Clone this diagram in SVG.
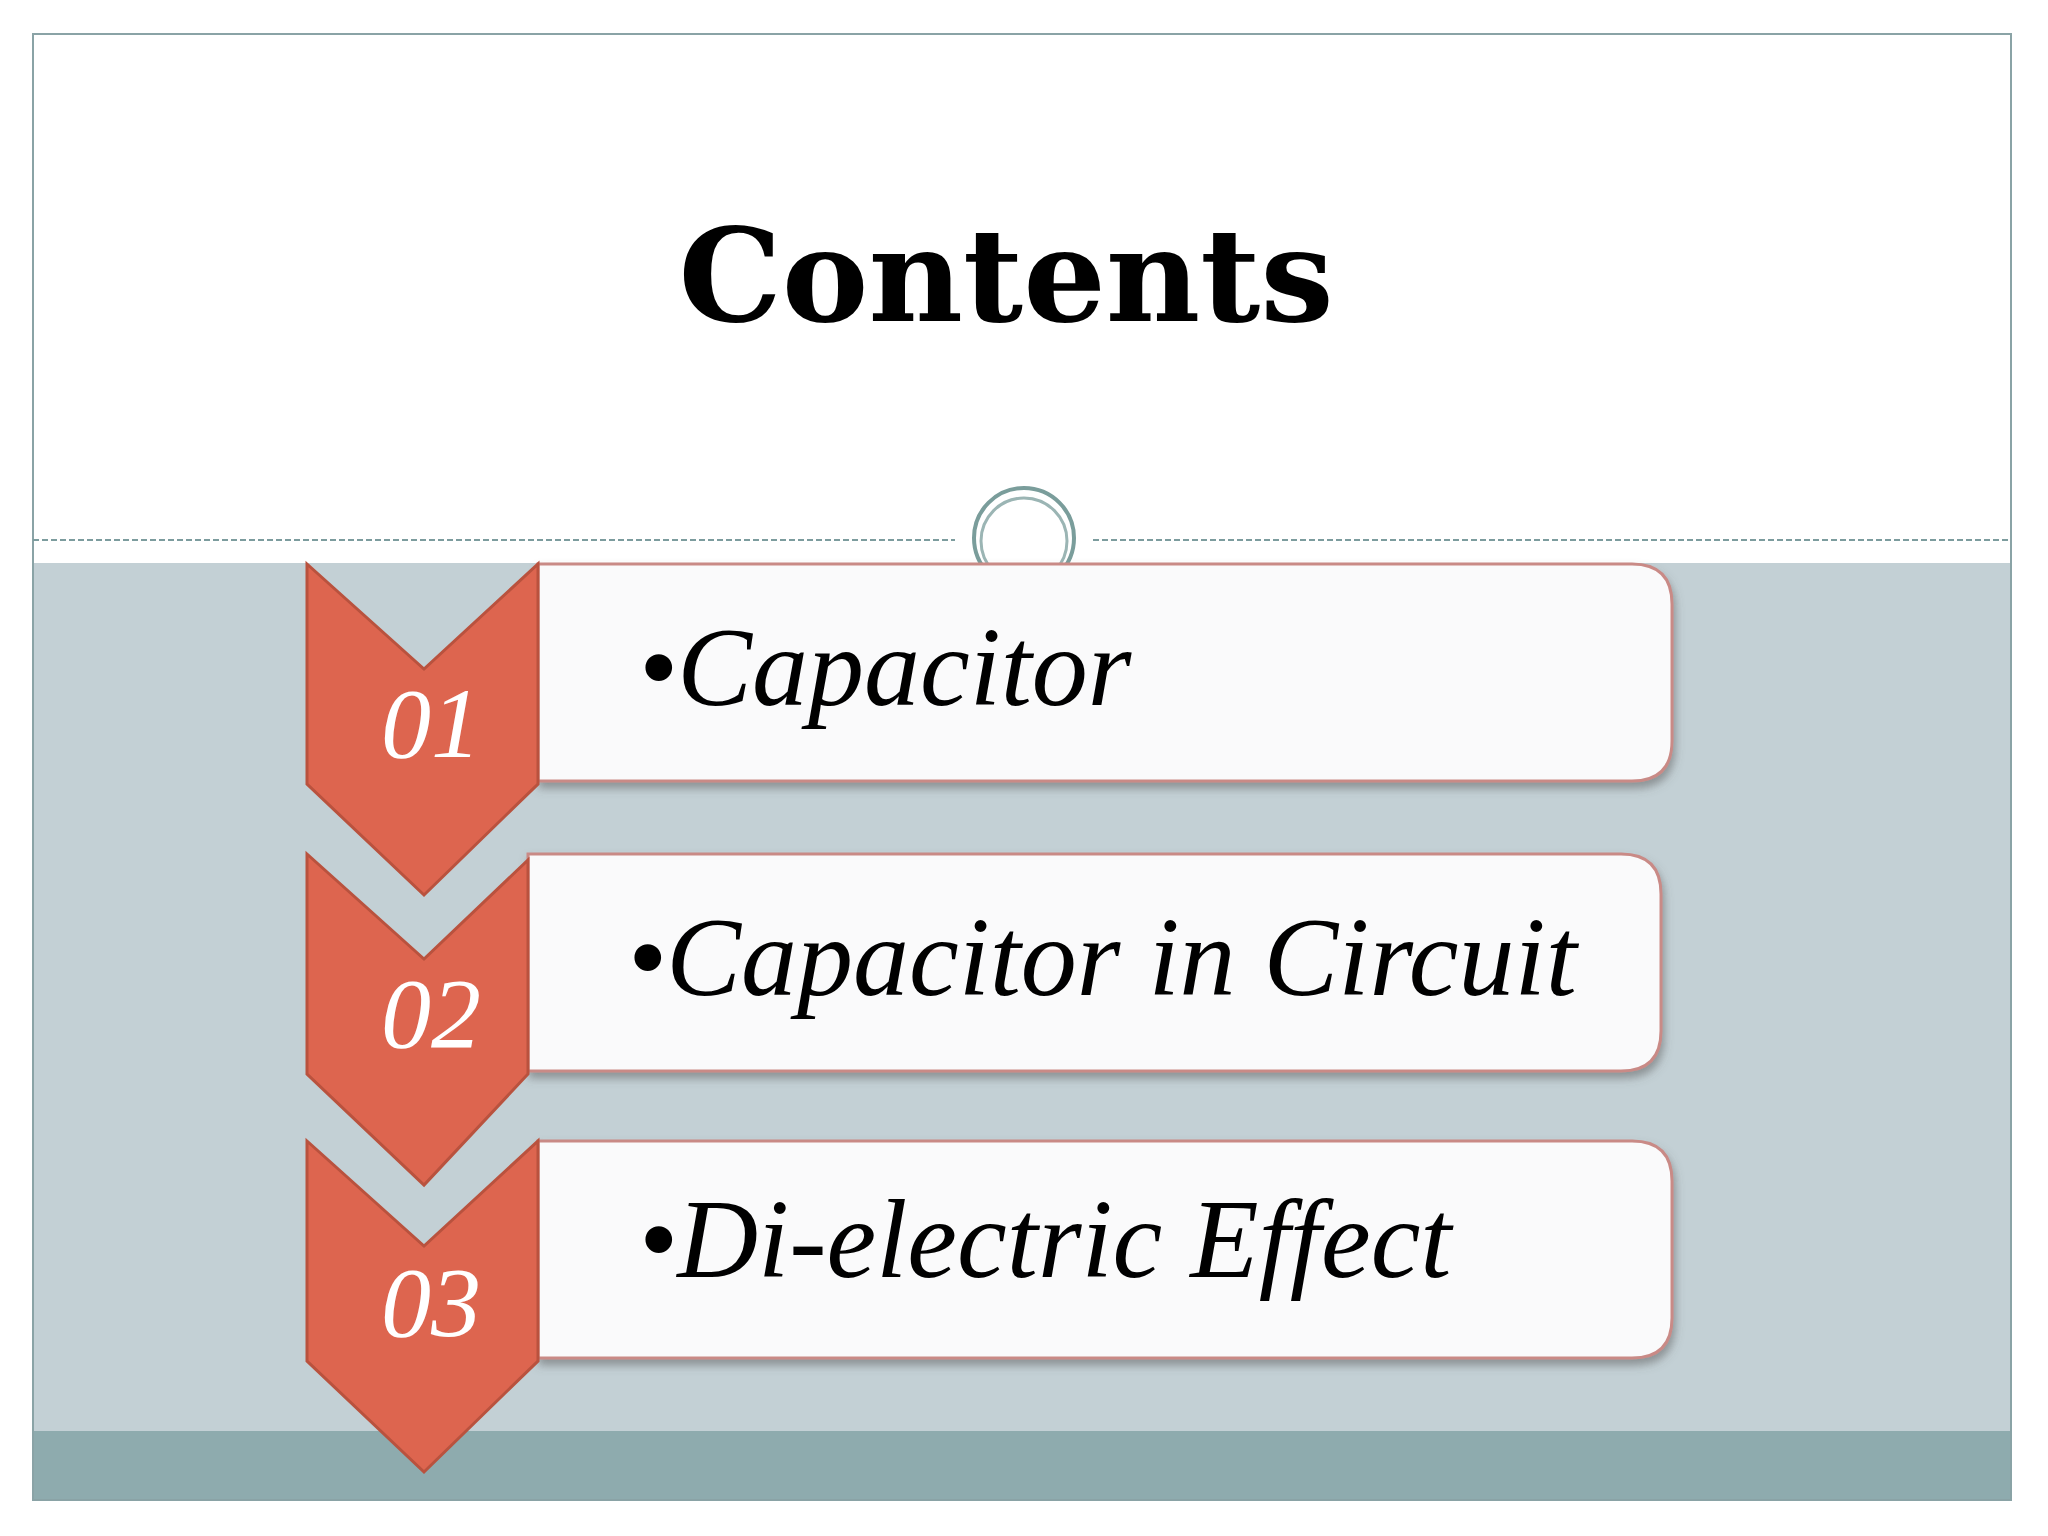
<svg xmlns="http://www.w3.org/2000/svg" width="2048" height="1536" viewBox="0 0 2048 1536">
<style>
.box{fill:#fafafb;stroke:#c98a86;stroke-width:3}
.chev{fill:#dd654f;stroke:#b9523e;stroke-width:3}
.num{font-family:"Liberation Serif",serif;font-style:italic;font-size:100px;fill:#fff;text-anchor:middle}
.item{font-family:"Liberation Serif",serif;font-style:italic;font-size:112px;fill:#000}
</style>
<defs>
<filter id="sh" x="-5%" y="-10%" width="110%" height="130%"><feDropShadow dx="2" dy="6" stdDeviation="4" flood-color="#555" flood-opacity="0.5"/></filter>
</defs>
<rect x="0" y="0" width="2048" height="1536" fill="#fff"/>
<rect x="33" y="563" width="1978" height="868" fill="#c3d0d5"/>
<rect x="33" y="1431" width="1978" height="69" fill="#8eabae"/>
<rect x="33" y="34" width="1978" height="1466" fill="none" stroke="#8aa3a6" stroke-width="2"/>
<line x1="33" y1="540" x2="955" y2="540" stroke="#7c9c9e" stroke-width="2" stroke-dasharray="6,3"/>
<line x1="1093" y1="540" x2="2011" y2="540" stroke="#7c9c9e" stroke-width="2" stroke-dasharray="6,3"/>
<circle cx="1024" cy="538" r="50" fill="none" stroke="#7a9d9b" stroke-width="4"/>
<circle cx="1024" cy="541" r="43" fill="none" stroke="#9bb5b4" stroke-width="3"/>
<text x="1006" y="321" font-family="DejaVu Serif,serif" font-weight="bold" font-size="130" text-anchor="middle">Contents</text>
<g id="item1">
<path class="box" filter="url(#sh)" d="M538 564 H1632 Q1672 564 1672 604 V741 Q1672 781 1632 781 H538 Z"/>
<path class="chev" d="M307 564 L424 669 L538 564 V784 L424 895 L307 784 Z"/>
<text class="num" x="431" y="757">01</text>
<text class="item" x="638" y="705">•Capacitor</text>
</g>
<g id="item2">
<path class="box" filter="url(#sh)" d="M528 854 H1621 Q1661 854 1661 894 V1031 Q1661 1071 1621 1071 H528 Z"/>
<path class="chev" d="M307 854 L424 959 L528 860 V1074 L424 1185 L307 1074 Z"/>
<text class="num" x="431" y="1047">02</text>
<text class="item" x="627" y="995">•Capacitor in Circuit</text>
</g>
<g id="item3">
<path class="box" filter="url(#sh)" d="M538 1141 H1632 Q1672 1141 1672 1181 V1318 Q1672 1358 1632 1358 H538 Z"/>
<path class="chev" d="M307 1141 L424 1246 L538 1141 V1361 L424 1472 L307 1361 Z"/>
<text class="num" x="431" y="1336">03</text>
<text class="item" x="638" y="1277">•Di-electric Effect</text>
</g>
</svg>
